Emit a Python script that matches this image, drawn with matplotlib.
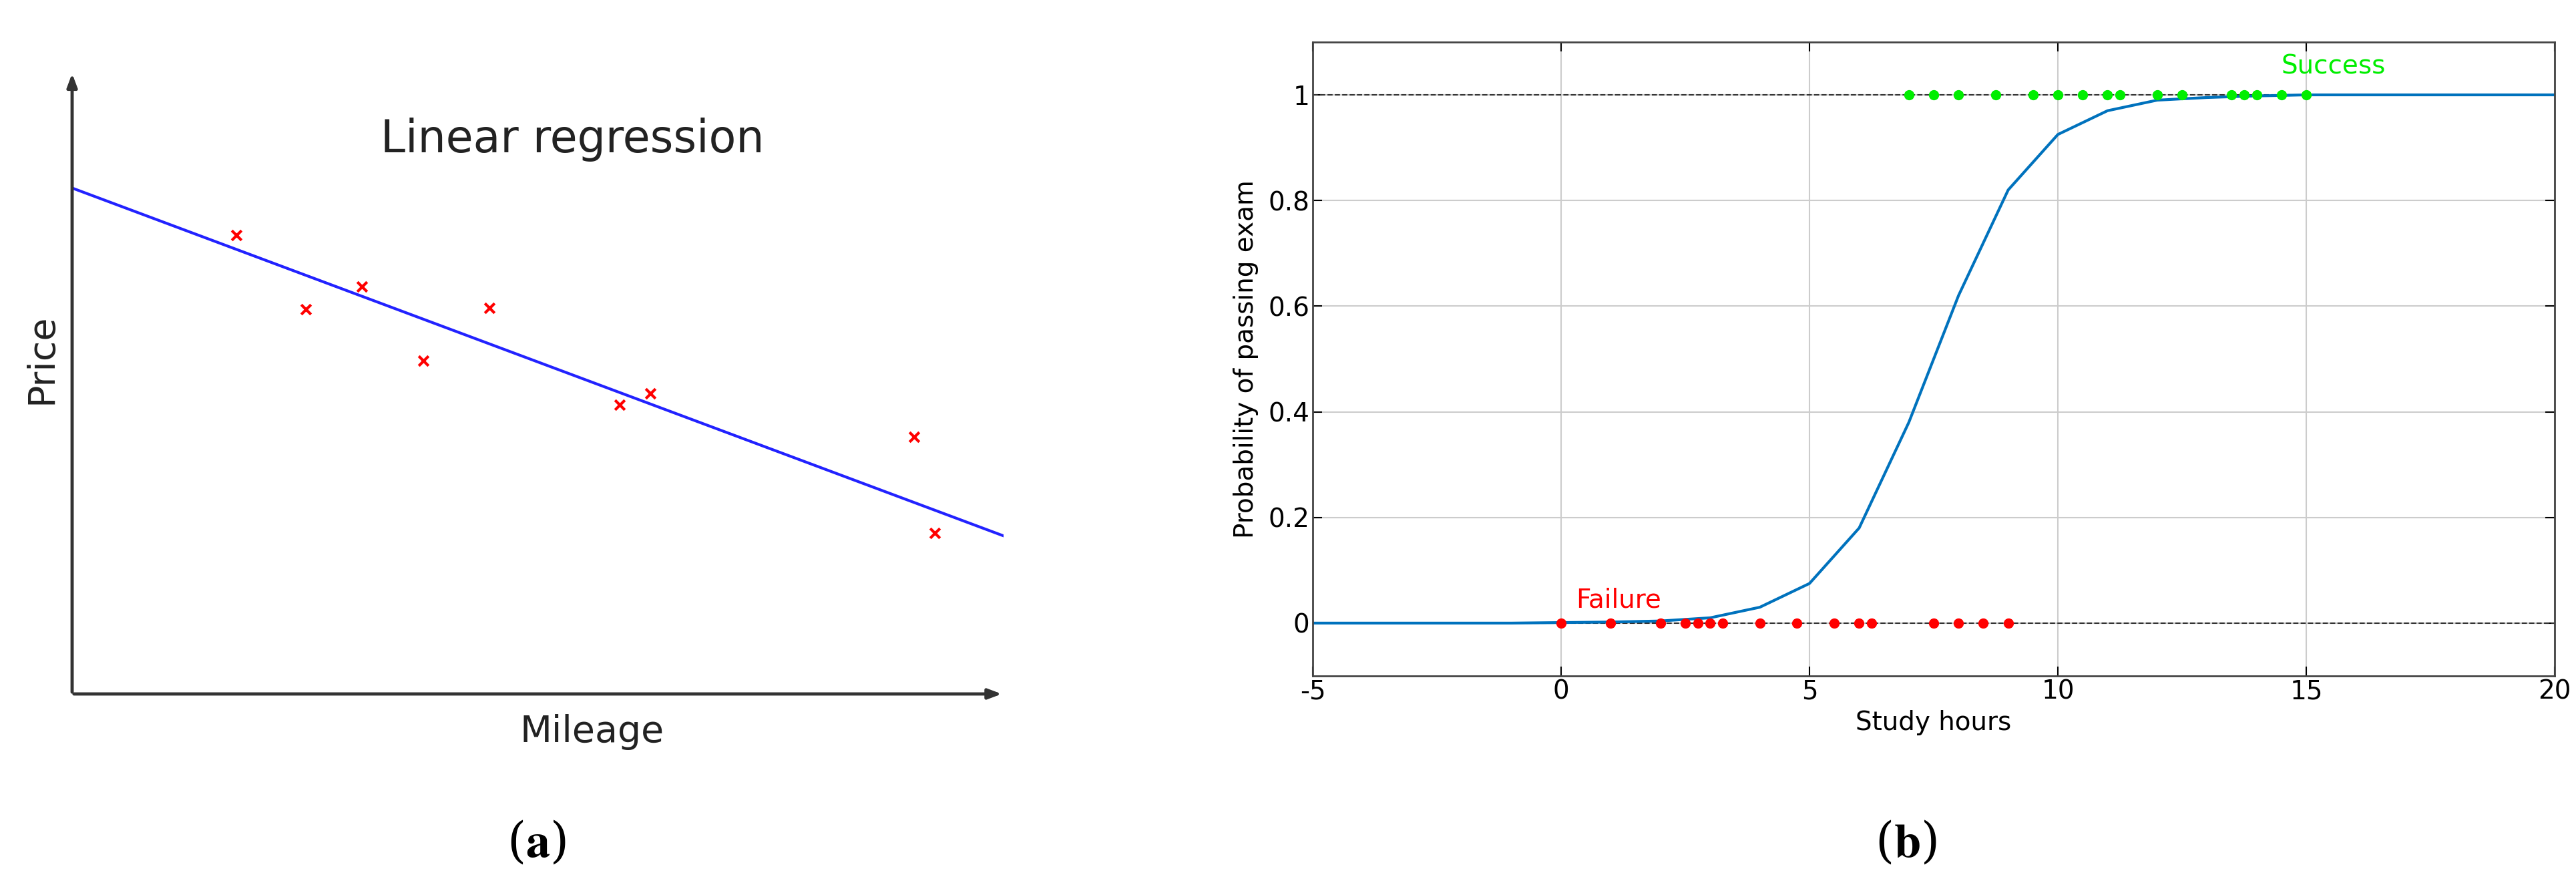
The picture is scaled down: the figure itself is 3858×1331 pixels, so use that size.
import matplotlib
matplotlib.use("Agg")
import matplotlib.pyplot as plt

# panel (a): linear regression sketch
mileage = [1.76, 2.51, 3.11, 4.48, 3.77, 5.88, 6.21, 9.04, 9.26]
price = [7.37, 6.18, 6.55, 6.20, 5.36, 4.65, 4.83, 4.13, 2.59]
fit_x = [0.0, 10.0]
fit_y = [8.13, 2.54]

# panel (b): logistic regression
fail_hours = [0, 1, 2, 2.5, 2.75, 3, 3.25, 4, 4.75, 5.5, 6, 6.25, 7.5, 8, 8.5, 9]
pass_hours = [7, 7.5, 8, 8.75, 9.5, 10, 10.5, 11, 11.25, 12, 12.5, 13.5, 13.75, 14, 14.5, 15]
curve_x = list(range(-5, 21))
curve_y = [0, 0, 0, 0, 0, 0.001, 0.002, 0.004, 0.01, 0.03, 0.075, 0.18, 0.38, 0.62,
           0.82, 0.925, 0.97, 0.99, 0.995, 0.998, 1, 1, 1, 1, 1, 1]

plt.rcParams["mathtext.fontset"] = "stix"
plt.rcParams["axes.unicode_minus"] = False
fig = plt.figure(figsize=(38.58, 13.31), dpi=100)

# ---- (a)
ax = fig.add_axes([0.028, 0.2194, 0.3616, 0.700])
ax.set_xlim(0, 10)
ax.set_ylim(0, 10)
ax.axis("off")
ax.plot(fit_x, fit_y, color="#2222ff", lw=3)
ax.scatter(mileage, price, marker="x", color="red", s=110, linewidths=3, zorder=3)
arrow = dict(arrowstyle="-|>,head_length=1.2,head_width=0.45", color="#333333", lw=3.5)
ax.annotate("", xy=(10, 0), xytext=(0, 0), arrowprops=arrow, annotation_clip=False)
ax.annotate("", xy=(0, 10), xytext=(0, 0), arrowprops=arrow, annotation_clip=False)
fig.text(857 / 3858, 1 - 209 / 1331, "Linear regression", fontsize=48, color="#222222",
         ha="center", va="center")
fig.text(62 / 3858, 1 - 537 / 1331, "Price", fontsize=40, color="#222222",
         ha="center", va="center", rotation=90)
fig.text(887 / 3858, 1 - 1096 / 1331, "Mileage", fontsize=40, color="#222222",
         ha="center", va="center")
fig.text(803 / 3858, 1 - 1262 / 1331, r"($\mathbf{a}$)", fontsize=52, family="serif",
         ha="center", va="center")

# ---- (b)
bx = fig.add_axes([0.5096, 0.2397, 0.4821, 0.7130])
bx.set_xlim(-5, 20)
bx.set_ylim(-0.1, 1.1)
bx.set_xticks([-5, 0, 5, 10, 15, 20])
bx.set_yticks([0, 0.2, 0.4, 0.6, 0.8, 1])
bx.set_yticklabels(["0", "0.2", "0.4", "0.6", "0.8", "1"])
bx.grid(True, color="#cccccc", lw=1.5)
bx.set_axisbelow(True)
bx.axhline(0, color="#333333", ls="--", lw=1.5)
bx.axhline(1, color="#333333", ls="--", lw=1.5)
bx.plot(curve_x, curve_y, color="#0072BD", lw=3)
bx.plot(fail_hours, [0] * len(fail_hours), "o", color="red", ms=10, ls="none")
bx.plot(pass_hours, [1] * len(pass_hours), "o", color="#00ee00", ms=10, ls="none")
bx.text(0.3, 0.03, "Failure", color="red", fontsize=28)
bx.text(14.5, 1.04, "Success", color="#00ee00", fontsize=28)
bx.tick_params(labelsize=28, direction="in", length=10, width=1.5, top=True, right=True)
for s in bx.spines.values():
    s.set_color("#444444")
    s.set_linewidth(2)
bx.set_xlabel("Study hours", fontsize=28, labelpad=6)
bx.set_ylabel("Probability of passing exam", fontsize=28, labelpad=10)
fig.text(2854 / 3858, 1 - 1262 / 1331, r"($\mathbf{b}$)", fontsize=52, family="serif",
         ha="center", va="center")

fig.savefig("out.png", dpi=100)
